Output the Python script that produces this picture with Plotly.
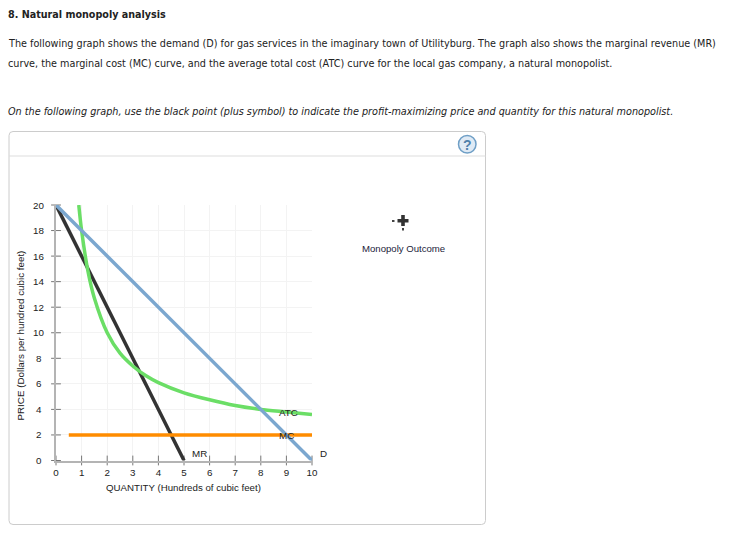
import plotly.graph_objects as go

WIDTH, HEIGHT = 747, 539

# Economic curves (quantity in hundreds of cubic feet, price in dollars)
demand_q = [0, 10]
demand_p = [20, 0]
mr_q = [0, 5]
mr_p = [20, 0]
mc_q = [0.5, 10]
mc_p = [2, 2]
atc_q = [0.89, 1, 1.25, 1.5, 2, 2.5, 3, 3.5, 4, 5, 6, 7, 8, 9, 10]
atc_p = [20, 18, 14.8, 12.7, 10, 8.4, 7.4, 6.65, 6.1, 5.3, 4.75, 4.3, 4, 3.8, 3.6]

x_ticks = [0, 1, 2, 3, 4, 5, 6, 7, 8, 9, 10]
y_ticks = [0, 2, 4, 6, 8, 10, 12, 14, 16, 18, 20]

heading = "8. Natural monopoly analysis"
intro_1 = ("The following graph shows the demand (D) for gas services in the imaginary town of "
           "Utilityburg. The graph also shows the marginal revenue (MR)")
intro_2 = ("curve, the marginal cost (MC) curve, and the average total cost (ATC) curve for the "
           "local gas company, a natural monopolist.")
prompt = ("On the following graph, use the black point (plus symbol) to indicate the "
          "profit-maximizing price and quantity for this natural monopolist.")

BODY_FONT = "DejaVu Sans"
CHART_FONT = "Liberation Sans"
AXIS_GREY = "#b4b4b4"
TICK_GREY = "#777777"


def px(x):
    return x / WIDTH


def py(y):
    return 1 - y / HEIGHT


def page_text(x, y, text, size, font=BODY_FONT, anchor="left", color="#222222", angle=0):
    return dict(
        x=px(x), y=py(y), xref="paper", yref="paper", text=text, showarrow=False,
        xanchor=anchor, yanchor="middle", align=anchor, textangle=angle, borderpad=0,
        font=dict(family=font, size=size, color=color),
    )


def page_rect(x0, y0, x1, y1, fill):
    return dict(type="rect", xref="paper", yref="paper", x0=px(x0), y0=py(y0), x1=px(x1), y1=py(y1),
                fillcolor=fill, line=dict(width=0))


def panel_path(x0, y0, x1, y1, r):
    return (f"M {px(x0 + r)} {py(y0)} L {px(x1 - r)} {py(y0)} Q {px(x1)} {py(y0)} {px(x1)} {py(y0 + r)} "
            f"L {px(x1)} {py(y1 - r)} Q {px(x1)} {py(y1)} {px(x1 - r)} {py(y1)} "
            f"L {px(x0 + r)} {py(y1)} Q {px(x0)} {py(y1)} {px(x0)} {py(y1 - r)} "
            f"L {px(x0)} {py(y0 + r)} Q {px(x0)} {py(y0)} {px(x0 + r)} {py(y0)} Z")


fig = go.Figure()

# Tick marks straddle the axis lines, so they are drawn as markers
fig.add_trace(go.Scatter(
    x=x_ticks, y=[0] * len(x_ticks), mode="markers", cliponaxis=False, hoverinfo="skip",
    marker=dict(symbol="line-ns", size=7, line=dict(width=1, color=TICK_GREY)),
))
fig.add_trace(go.Scatter(
    x=[0] * len(y_ticks), y=y_ticks, mode="markers", cliponaxis=False, hoverinfo="skip",
    marker=dict(symbol="line-ew", size=7, line=dict(width=1, color=TICK_GREY)),
))

# Curves, back to front
fig.add_trace(go.Scatter(x=mr_q, y=mr_p, mode="lines", cliponaxis=False, name="MR",
                         line=dict(color="#333333", width=3.5)))
fig.add_trace(go.Scatter(x=atc_q, y=atc_p, mode="lines", cliponaxis=False, name="ATC",
                         line=dict(color="#6bde66", width=3.5, shape="spline", smoothing=0.8)))
fig.add_trace(go.Scatter(x=mc_q, y=mc_p, mode="lines", cliponaxis=False, name="MC",
                         line=dict(color="#ff8c00", width=3.5)))
fig.add_trace(go.Scatter(x=demand_q, y=demand_p, mode="lines", cliponaxis=False, name="D",
                         line=dict(color="#7ba7cf", width=3.5)))

annotations = [
    page_text(7, 14, f"<b>{heading}</b>", 9.6),
    page_text(7, 44, intro_1, 9.67),
    page_text(7, 63, intro_2, 9.67),
    page_text(7, 111.5, f"<i>{prompt}</i>", 9.67),
    page_text(467.3, 144.5, "<b>?</b>", 14, CHART_FONT, "center", "#4f80ab"),
    page_text(403, 248.5, "Monopoly Outcome", 9.6, CHART_FONT, "center", "#1c1c3a"),
    page_text(183.5, 487.5, "QUANTITY (Hundreds of cubic feet)", 9.7, CHART_FONT, "center"),
    page_text(20, 335.5, "PRICE (Dollars per hundred cubic feet)", 9.8, CHART_FONT, "center", angle=-90),
    page_text(288, 412, "ATC", 9.8, CHART_FONT, "center"),
    page_text(286.5, 435, "MC", 9.8, CHART_FONT, "center"),
    page_text(199.5, 453.5, "MR", 9.8, CHART_FONT, "center"),
    page_text(323, 453.5, "D", 9.8, CHART_FONT, "center"),
]

# Price labels are centred in their column rather than right-aligned
for tick in y_ticks:
    annotations.append(dict(
        x=px(38.5), y=tick, xref="paper", yref="y", text=str(tick), showarrow=False,
        xanchor="center", yanchor="middle", borderpad=0,
        font=dict(family=CHART_FONT, size=9.8, color="#222222"),
    ))

shapes = [
    # Question panel and its header rule
    dict(type="path", xref="paper", yref="paper", path=panel_path(9, 131.5, 485.5, 524.5, 4),
         line=dict(color="#cccccc", width=1), fillcolor="rgba(0,0,0,0)", layer="below"),
    dict(type="line", xref="paper", yref="paper", x0=px(9), x1=px(485.5), y0=py(156), y1=py(156),
         line=dict(color="#dddddd", width=1), layer="below"),
    # Help badge
    dict(type="circle", xref="paper", yref="paper", x0=px(458.5), x1=px(476), y0=py(135.5), y1=py(153),
         fillcolor="#dfeaf5", line=dict(color="#6f9fc6", width=1.5), layer="below"),
    # Monopoly Outcome palette symbol
    page_rect(397.5, 219, 408.5, 222.5, "#333333"),
    page_rect(401.2, 215, 404.8, 226, "#333333"),
    page_rect(392, 220, 394.5, 222, "#444444"),
    page_rect(402, 228, 404, 230.5, "#444444"),
]

fig.update_layout(
    width=WIDTH, height=HEIGHT, margin=dict(l=0, r=0, t=0, b=0, pad=0, autoexpand=False),
    paper_bgcolor="white", plot_bgcolor="white", showlegend=False,
    annotations=annotations, shapes=shapes,
    xaxis=dict(
        domain=[px(56), px(312)], range=[0, 10], tickmode="array", tickvals=x_ticks,
        ticks="", ticklabelstandoff=2, showgrid=True, gridcolor="#f3f3f3", gridwidth=1,
        zeroline=False, showline=True, linecolor=AXIS_GREY, linewidth=2,
        tickfont=dict(family=CHART_FONT, size=9.8, color="#222222"), fixedrange=True,
    ),
    yaxis=dict(
        domain=[py(460.5), py(205)], range=[0, 20], tickmode="array", tickvals=y_ticks,
        ticks="", showticklabels=False, showgrid=True, gridcolor="#f3f3f3", gridwidth=1,
        zeroline=False, showline=True, linecolor=AXIS_GREY, linewidth=2, fixedrange=True,
    ),
)

fig.write_html("out.html")
